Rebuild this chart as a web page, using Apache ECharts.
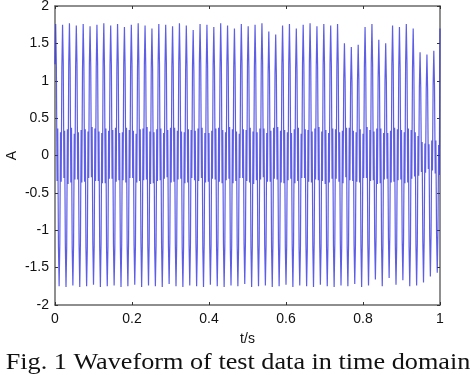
<!DOCTYPE html>
<html>
<head>
<meta charset="utf-8">
<script src="https://cdn.jsdelivr.net/npm/echarts@6/dist/echarts.min.js"></script>
<style>
html,body{margin:0;padding:0;background:#fff;}
#c{width:474px;height:375px;}
</style>
</head>
<body>
<div id="c"></div>
<script>
// Tick labels
const xTicks = [0, 0.2, 0.4, 0.6, 0.8, 1];
const yTicks = [-2, -1.5, -1, -0.5, 0, 0.5, 1, 1.5, 2];
const captionText = 'Fig. 1 Waveform of test data in time domain';

// Waveform, one entry per cycle (56 cycles in 1 s)
const highRise = [
  1.22,1.18,1.25,1.20,1.15,1.23,1.19,1.26,1.21,1.17,
  1.24,1.20,1.16,1.23,1.18,1.25,1.21,1.19,1.24,1.16,
  1.20,1.25,1.18,1.22,1.15,1.24,1.19,1.21,1.26,1.17,
  1.23,1.12,1.10,1.20,1.24,1.18,1.22,1.25,1.19,1.21,
  1.23,1.20,1.02,0.98,1.00,1.19,1.24,1.05,1.01,1.22,
  1.18,1.25,1.17,0.92,0.90,0.95
];
const highPeaks = [
  1.76,1.75,1.77,1.74,1.76,1.73,1.75,1.77,1.74,1.76,
  1.72,1.75,1.77,1.74,1.70,1.76,1.75,1.73,1.77,1.74,
  1.68,1.76,1.75,1.72,1.77,1.74,1.70,1.76,1.73,1.75,
  1.77,1.66,1.62,1.74,1.76,1.70,1.75,1.77,1.73,1.76,
  1.74,1.76,1.50,1.45,1.48,1.72,1.76,1.55,1.50,1.74,
  1.72,1.76,1.70,1.38,1.35,1.40
];
const highFall = [
  1.19,1.24,1.17,1.22,1.26,1.18,1.23,1.16,1.21,1.25,
  1.17,1.22,1.26,1.19,1.14,1.21,1.24,1.18,1.23,1.20,
  1.13,1.22,1.19,1.16,1.25,1.20,1.15,1.23,1.18,1.21,
  1.24,1.10,1.08,1.22,1.19,1.14,1.21,1.24,1.17,1.22,
  1.20,1.23,1.00,0.97,1.02,1.16,1.21,1.03,0.99,1.20,
  1.16,1.22,1.15,0.90,0.88,0.93
];
const dipAfterHigh = [
  -0.34,-0.30,-0.36,-0.32,-0.35,-0.29,-0.34,-0.37,-0.31,-0.33,
  -0.36,-0.30,-0.34,-0.32,-0.37,-0.33,-0.29,-0.35,-0.31,-0.36,
  -0.33,-0.30,-0.35,-0.32,-0.37,-0.31,-0.34,-0.30,-0.36,-0.33,
  -0.29,-0.35,-0.32,-0.37,-0.31,-0.34,-0.30,-0.36,-0.33,-0.38,
  -0.31,-0.35,-0.29,-0.34,-0.36,-0.30,-0.33,-0.37,-0.31,-0.35,
  -0.32,-0.36,-0.28,-0.22,-0.18,-0.24
];
const riseBeforeLow = [
  0.36,0.33,0.37,0.31,0.35,0.38,0.32,0.36,0.34,0.30,
  0.37,0.33,0.35,0.38,0.31,0.36,0.34,0.37,0.32,0.35,
  0.33,0.37,0.30,0.36,0.34,0.38,0.32,0.35,0.37,0.31,
  0.36,0.33,0.38,0.34,0.30,0.37,0.35,0.32,0.38,0.34,
  0.36,0.31,0.37,0.33,0.35,0.38,0.32,0.36,0.30,0.37,
  0.34,0.36,0.31,0.18,0.15,0.20
];
const lowFall = [
  -1.21,-1.17,-1.24,-1.19,-1.23,-1.16,-1.22,-1.25,-1.18,-1.20,
  -1.24,-1.19,-1.16,-1.22,-1.25,-1.18,-1.21,-1.17,-1.23,-1.20,
  -1.16,-1.24,-1.19,-1.22,-1.17,-1.25,-1.20,-1.18,-1.23,-1.21,
  -1.19,-1.24,-1.16,-1.22,-1.20,-1.25,-1.18,-1.21,-1.17,-1.23,
  -1.20,-1.16,-1.24,-1.19,-1.22,-1.18,-1.12,-1.21,-1.10,-1.19,
  -1.14,-1.22,-1.20,-1.15,-1.08,-1.05
];
const lowPeaks = [
  -1.75,-1.76,-1.74,-1.76,-1.75,-1.73,-1.76,-1.75,-1.74,-1.76,
  -1.75,-1.73,-1.76,-1.74,-1.75,-1.76,-1.72,-1.75,-1.76,-1.74,
  -1.75,-1.76,-1.73,-1.75,-1.76,-1.74,-1.75,-1.72,-1.76,-1.75,
  -1.74,-1.76,-1.75,-1.73,-1.76,-1.74,-1.75,-1.76,-1.73,-1.75,
  -1.76,-1.74,-1.75,-1.72,-1.76,-1.74,-1.66,-1.75,-1.64,-1.73,
  -1.67,-1.75,-1.74,-1.70,-1.62,-1.57
];
const lowRise = [
  -1.18,-1.23,-1.20,-1.16,-1.24,-1.21,-1.17,-1.22,-1.25,-1.19,
  -1.16,-1.22,-1.24,-1.18,-1.21,-1.25,-1.17,-1.20,-1.23,-1.19,
  -1.24,-1.18,-1.21,-1.16,-1.23,-1.20,-1.25,-1.17,-1.22,-1.19,
  -1.21,-1.17,-1.24,-1.20,-1.18,-1.22,-1.25,-1.16,-1.23,-1.20,
  -1.18,-1.23,-1.19,-1.21,-1.16,-1.24,-1.10,-1.20,-1.08,-1.22,
  -1.12,-1.20,-1.18,-1.12,-1.06,-1.02
];
const riseAfterLow = [
  0.31,0.35,0.29,0.34,0.32,0.36,0.30,0.33,0.37,0.31,
  0.34,0.29,0.36,0.32,0.35,0.30,0.37,0.33,0.31,0.34,
  0.36,0.30,0.33,0.37,0.31,0.35,0.29,0.34,0.32,0.36,
  0.30,0.37,0.33,0.31,0.35,0.29,0.34,0.36,0.32,0.30,
  0.35,0.33,0.37,0.31,0.29,0.34,0.36,0.30,0.33,0.35,
  0.31,0.34,0.26,0.16,0.20,0.14
];
const dipBeforeHigh = [
  -0.35,-0.38,-0.32,-0.36,-0.30,-0.34,-0.37,-0.31,-0.35,-0.33,
  -0.30,-0.36,-0.33,-0.38,-0.34,-0.31,-0.36,-0.32,-0.37,-0.30,
  -0.34,-0.36,-0.31,-0.35,-0.33,-0.37,-0.30,-0.34,-0.38,-0.32,
  -0.35,-0.31,-0.36,-0.33,-0.37,-0.30,-0.35,-0.32,-0.34,-0.36,
  -0.31,-0.37,-0.33,-0.35,-0.30,-0.34,-0.38,-0.32,-0.36,-0.33,
  -0.37,-0.31,-0.27,-0.23,-0.20,-0.26
];
const lastSample = 1.70;
const duration = 1; // seconds

// Build the sample sequence from the arrays
const samples = [];
for (let k = 0; k < highPeaks.length; k++) {
  samples.push(highRise[k], highPeaks[k], highFall[k], dipAfterHigh[k], riseBeforeLow[k],
               lowFall[k], lowPeaks[k], lowRise[k], riseAfterLow[k], dipBeforeHigh[k]);
}
samples.push(lastSample);
const seriesData = samples.map((v, i) => [duration * i / (samples.length - 1), v]);

const chart = echarts.init(document.getElementById('c'), null, {renderer: 'canvas'});
const labelFont = {fontFamily: 'Liberation Sans', fontSize: 14, color: '#111'};
const lineC = '#6a6a6a';
const tickStyle = {show: true, inside: true, length: 3, lineStyle: {color: '#333'}};
chart.setOption({
  animation: false,
  backgroundColor: '#fff',
  graphic: [{
    type: 'text', x: 238, y: 363, scaleX: 1.14,
    style: {
      text: captionText, fontFamily: 'Liberation Serif', fontSize: 23, fill: '#111',
      textAlign: 'center', verticalAlign: 'middle'
    }
  }],
  grid: {left: 55, right: 34, top: 6, bottom: 70, containLabel: false, outerBoundsMode: 'none'},
  xAxis: [{
    type: 'value', min: xTicks[0], max: xTicks[xTicks.length - 1], interval: 0.2,
    name: 't/s', nameLocation: 'middle', nameGap: 27, nameMoveOverlap: false,
    nameTextStyle: labelFont,
    axisLine: {show: true, onZero: false, lineStyle: {color: lineC, width: 1.5}},
    axisTick: tickStyle,
    axisLabel: Object.assign({margin: 7}, labelFont),
    splitLine: {show: false}
  }, {
    type: 'value', position: 'top', min: xTicks[0], max: xTicks[xTicks.length - 1], interval: 0.2,
    axisLine: {show: true, onZero: false, lineStyle: {color: lineC, width: 1.5}},
    axisTick: tickStyle,
    axisLabel: {show: false}, splitLine: {show: false}
  }],
  yAxis: [{
    type: 'value', min: yTicks[0], max: yTicks[yTicks.length - 1], interval: 0.5,
    name: 'A', nameLocation: 'middle', nameGap: 36, nameMoveOverlap: false,
    nameTextStyle: labelFont,
    axisLine: {show: true, onZero: false, lineStyle: {color: lineC, width: 1.5}},
    axisTick: tickStyle,
    axisLabel: Object.assign({margin: 6}, labelFont),
    splitLine: {show: false}
  }, {
    type: 'value', position: 'right', min: yTicks[0], max: yTicks[yTicks.length - 1], interval: 0.5,
    axisLine: {show: true, onZero: false, lineStyle: {color: lineC, width: 1.5}},
    axisTick: tickStyle,
    axisLabel: {show: false}, splitLine: {show: false}
  }],
  series: [{
    type: 'line', data: seriesData, xAxisIndex: 0, yAxisIndex: 0,
    showSymbol: false, symbol: 'none', sampling: null, smooth: false,
    lineStyle: {color: '#3535e0', width: 1.2, opacity: 0.8}
  }]
});
</script>
</body>
</html>
